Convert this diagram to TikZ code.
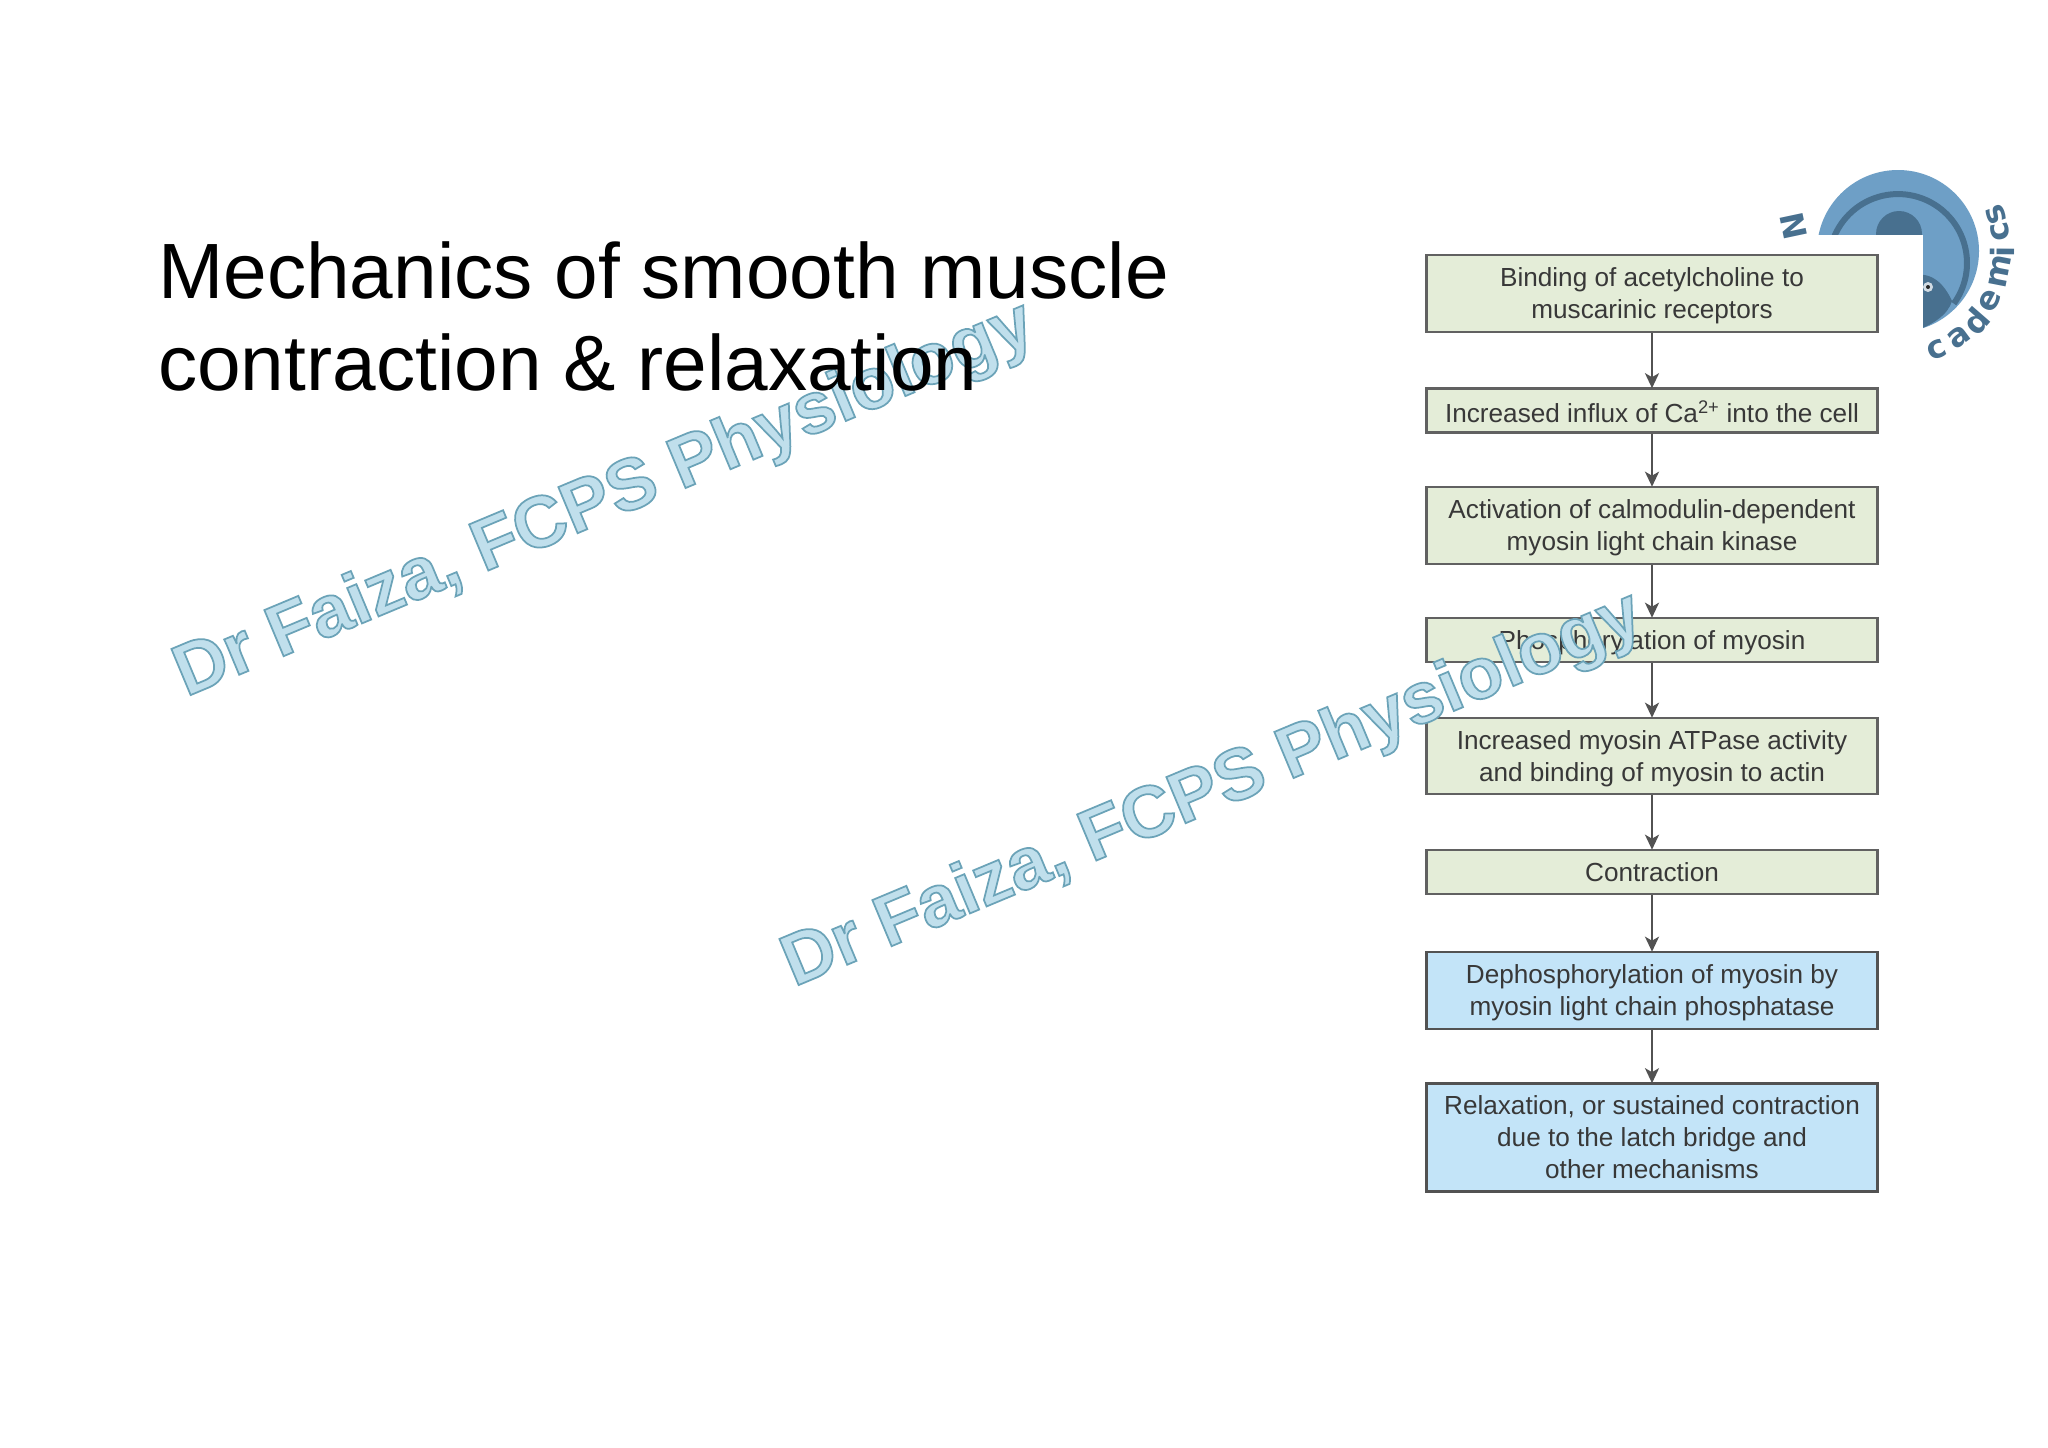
\documentclass[tikz,border=0pt]{standalone}
\usepackage{fontspec}
\usetikzlibrary{arrows.meta,positioning}
\setmainfont{Liberation Sans}
\newfontfamily\wmfont[FakeBold=2.4]{Liberation Sans Bold}
\newfontfamily\logofont{DejaVu Sans Bold}
\definecolor{boxgreen}{HTML}{E4EDD8}
\definecolor{boxblue}{HTML}{C3E4F8}
\definecolor{logolight}{HTML}{6E9FC6}
\definecolor{logodark}{HTML}{48708F}
\definecolor{wmfill}{HTML}{C0DFEC}
\newcommand{\firstline}{\rule{0pt}{24pt}}
\tikzset{
  flow/.style={draw=black!62,line width=2.6pt,minimum width=451pt,inner sep=0pt,align=center,
    text=black!78,font=\fontsize{26.15}{32}\selectfont},
  greenbox/.style={flow,fill=boxgreen},
  bluebox/.style={flow,fill=boxblue,draw=black!68},
  link/.style={draw=black!68,line width=2.4pt,-{Stealth[length=15pt,width=14pt,inset=4pt]},shorten >=-1pt},
  wmark/.style={anchor=base west,rotate=22.7,inner sep=0pt,text=wmfill,
    font=\fontsize{72.6}{80}\wmfont},
  logotext/.style={text=logodark,inner sep=0pt,font=\fontsize{32}{32}\logofont}
}
\newcommand{\wmtext}{\special{pdf:code 0.42 0.64 0.72 RG}Dr Faiza, FCPS Physiology}
\begin{document}
\begin{tikzpicture}[x=1pt,y=-1pt]
\useasboundingbox (0,0) rectangle (2048,1448);
\fill[white] (0,0) rectangle (2048,1448);
% logo
\fill[logolight] (1898,251) circle (81);
\draw[logodark,line width=6pt] (1953.8,303.6) arc[start angle=36,end angle=-157,radius=69];
\fill[logodark] (1876,240) -- (1876,234) arc[start angle=180,end angle=360,radius=23] -- (1922,240) -- cycle;
\fill[logodark] (1915,275) .. controls (1935,272) and (1946,288) .. (1952,301) .. controls (1948,315) and (1932,325) .. (1915,331) -- cycle;
\fill[white] (1700,235) rectangle (1923,400);
\fill[white!75!logodark] (1928,287) circle (5);
\fill[black!85] (1928,287) circle (2);
\foreach \ch/\ang in {c/-67,a/-53.6,d/-41,e/-28,m/-11,i/-0.5,c/10.3,s/19.9}{
  \pgfmathsetmacro{\px}{1895+107*cos(\ang)}
  \pgfmathsetmacro{\py}{251-107*sin(\ang)}
  \node[logotext,rotate=90+\ang] at (\px,\py) {\ch};
}
\node[logotext,rotate=-78] (logoN) at (1794,226) {N};
% first watermark, under the title
\node[wmark] (wmA) at (186,697) {\wmtext};
% title
\node[anchor=base west,inner sep=0pt,align=left,font=\fontsize{78.4}{92}\selectfont,text=black] (title) at (158,390)
  {Mechanics of smooth muscle\\contraction \& relaxation};
% flowchart
\node[greenbox,minimum height=77pt] (b1) at (1652,293.5) {\firstline Binding of acetylcholine to\\muscarinic receptors};
\node[greenbox,minimum height=44pt] (b2) at (1652,410.5) {\firstline Increased influx of Ca\textsuperscript{2+} into the cell};
\node[greenbox,minimum height=77pt] (b3) at (1652,525.5) {\firstline Activation of calmodulin-dependent\\myosin light chain kinase};
\node[greenbox,minimum height=44pt] (b4) at (1652,640) {\firstline Phosphorylation of myosin};
\node[greenbox,minimum height=76pt] (b5) at (1652,756) {\firstline Increased myosin ATPase activity\\and binding of myosin to actin};
\node[greenbox,minimum height=44pt] (b6) at (1652,872) {Contraction};
\node[bluebox,minimum height=77pt] (b7) at (1652,990.5) {\firstline Dephosphorylation of myosin by\\myosin light chain phosphatase};
\node[bluebox,minimum height=108pt] (b8) at (1652,1137.5) {Relaxation, or sustained contraction\\due to the latch bridge and\\other mechanisms};
\foreach \a/\b in {b1/b2,b2/b3,b3/b4,b4/b5,b5/b6,b6/b7,b7/b8}{\draw[link] (\a) -- (\b);}
% second watermark, over the flowchart
\node[wmark] (wmB) at (794,987) {\wmtext};
\end{tikzpicture}
\end{document}
